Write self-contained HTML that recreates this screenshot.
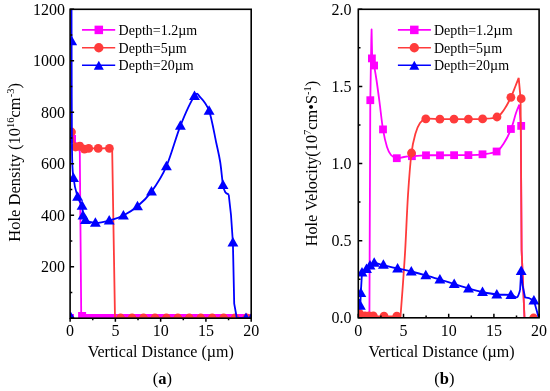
<!DOCTYPE html><html><head><meta charset="utf-8"><style>html,body{margin:0;padding:0;background:#fff;}svg{display:block;}</style></head><body><svg width="550" height="391" viewBox="0 0 550 391">
<rect width="550" height="391" fill="#fff"/>
<defs><clipPath id="cl"><rect x="70.1" y="9.3" width="181.1" height="308.9"/></clipPath><clipPath id="cr"><rect x="358.3" y="9.3" width="180.8" height="308.5"/></clipPath></defs>
<g clip-path="url(#cl)">
<path d="M68 136 L72 139 L78.6 146.6 L79.8 152 L81.2 312 L82.1 316 L86 318 L252 318" fill="none" stroke="#ff00ff" stroke-width="1.8" stroke-linejoin="round"/>
<rect x="68" y="135" width="8" height="8" fill="#ff00ff"/>
<rect x="74.6" y="142.6" width="8" height="8" fill="#ff00ff"/>
<rect x="78.1" y="312" width="8" height="8" fill="#ff00ff"/>
<rect x="66" y="314" width="8" height="8" fill="#ff00ff"/>
<rect x="82" y="314" width="170" height="5" fill="#ff00ff"/>
<path d="M69 128C69.42 128.67 70.42 128.87 71.5 132C72.58 135.13 74.12 144.43 75.5 146.8C76.88 149.17 78.32 145.83 79.8 146.2C81.28 146.57 82.92 148.63 84.4 149C85.88 149.37 86.4 148.5 88.7 148.4C91 148.3 94.75 148.4 98.2 148.4C101.65 148.4 107.07 147.97 109.4 148.4C111.73 148.83 111.73 150.57 112.2 151M112.2 151 L115 318 L252 318" fill="none" stroke="#ff3b3b" stroke-width="1.8" stroke-linejoin="round"/>
<circle cx="71.5" cy="132" r="4.4" fill="#ff3b3b"/>
<circle cx="75.5" cy="147" r="4.4" fill="#ff3b3b"/>
<circle cx="79.8" cy="146.2" r="4.4" fill="#ff3b3b"/>
<circle cx="84.4" cy="149.1" r="4.4" fill="#ff3b3b"/>
<circle cx="88.7" cy="148.4" r="4.4" fill="#ff3b3b"/>
<circle cx="98.2" cy="148.4" r="4.4" fill="#ff3b3b"/>
<circle cx="109.4" cy="148.4" r="4.4" fill="#ff3b3b"/>
<circle cx="69.5" cy="318" r="4.4" fill="#ff3b3b"/>
<circle cx="120.6" cy="318" r="4.4" fill="#ff3b3b"/>
<circle cx="132.05" cy="318" r="4.4" fill="#ff3b3b"/>
<circle cx="143.5" cy="318" r="4.4" fill="#ff3b3b"/>
<circle cx="154.95" cy="318" r="4.4" fill="#ff3b3b"/>
<circle cx="166.4" cy="318" r="4.4" fill="#ff3b3b"/>
<circle cx="177.85" cy="318" r="4.4" fill="#ff3b3b"/>
<circle cx="189.3" cy="318" r="4.4" fill="#ff3b3b"/>
<circle cx="200.75" cy="318" r="4.4" fill="#ff3b3b"/>
<circle cx="212.2" cy="318" r="4.4" fill="#ff3b3b"/>
<circle cx="223.65" cy="318" r="4.4" fill="#ff3b3b"/>
<circle cx="235.1" cy="318" r="4.4" fill="#ff3b3b"/>
<circle cx="246.55" cy="318" r="4.4" fill="#ff3b3b"/>
<path d="M71.5 0C71.52 6.75 71.52 15.5 71.6 40.5C71.68 65.5 71.68 127.08 72 150C72.32 172.92 72.57 170.17 73.5 178C74.43 185.83 76.17 192.33 77.6 197C79.03 201.67 81.2 202.92 82.1 206C83 209.08 82.43 213.17 83 215.5C83.57 217.83 83.43 218.75 85.5 220C87.57 221.25 91.45 222.9 95.4 223C99.35 223.1 104.53 221.85 109.2 220.6C113.87 219.35 118.68 217.88 123.4 215.5C128.12 213.12 132.82 210.28 137.5 206.3C142.18 202.32 146.68 198.27 151.5 191.6C156.32 184.93 161.58 177.27 166.4 166.3C171.22 155.33 175.72 137.52 180.4 125.8C185.08 114.08 191.23 100.8 194.5 96C197.77 91.2 197.57 94.52 200 97C202.43 99.48 206.38 103.23 209.1 110.9C211.82 118.57 214.45 134.48 216.3 143C218.15 151.52 219.08 154.98 220.2 162C221.32 169.02 222.15 180.07 223 185.1C223.85 190.13 224.35 190.63 225.3 192.2C226.25 193.77 228.13 194.12 228.7 194.5M228.7 194.5 L231 215 L232.9 242.5 L234.2 303.6 L236.8 318 L252 318" fill="none" stroke="#0000ff" stroke-width="1.8" stroke-linejoin="round"/>
<path d="M71.7 35.7L77.15 45.2L66.25 45.2Z" fill="#0000ff"/>
<path d="M73.5 172.5L78.95 182L68.05 182Z" fill="#0000ff"/>
<path d="M77.6 191.3L83.05 200.8L72.15 200.8Z" fill="#0000ff"/>
<path d="M82.1 200.3L87.55 209.8L76.65 209.8Z" fill="#0000ff"/>
<path d="M83 210L88.45 219.5L77.55 219.5Z" fill="#0000ff"/>
<path d="M85.5 214.5L90.95 224L80.05 224Z" fill="#0000ff"/>
<path d="M95.4 217.3L100.85 226.8L89.95 226.8Z" fill="#0000ff"/>
<path d="M109.2 215L114.65 224.5L103.75 224.5Z" fill="#0000ff"/>
<path d="M123.4 209.9L128.85 219.4L117.95 219.4Z" fill="#0000ff"/>
<path d="M137.5 200.7L142.95 210.2L132.05 210.2Z" fill="#0000ff"/>
<path d="M151.5 186L156.95 195.5L146.05 195.5Z" fill="#0000ff"/>
<path d="M166.4 160.7L171.85 170.2L160.95 170.2Z" fill="#0000ff"/>
<path d="M180.4 120.2L185.85 129.7L174.95 129.7Z" fill="#0000ff"/>
<path d="M194.5 90.4L199.95 99.9L189.05 99.9Z" fill="#0000ff"/>
<path d="M209.1 105.3L214.55 114.8L203.65 114.8Z" fill="#0000ff"/>
<path d="M223 179.5L228.45 189L217.55 189Z" fill="#0000ff"/>
<path d="M232.9 236.9L238.35 246.4L227.45 246.4Z" fill="#0000ff"/>
<path d="M246 312.5L251.45 322L240.55 322Z" fill="#0000ff"/>
<path d="M251.5 312.5L256.95 322L246.05 322Z" fill="#0000ff"/>
<path d="M70.8 311.5L76.25 321L65.35 321Z" fill="#0000ff"/>
</g>
<g clip-path="url(#cr)">
<path d="M358 318 L369.4 318 L370.3 100.2 L371.3 40 L371.6 29.5 L371.9 45 L372.2 58.4 L374.1 65.5M374.1 65.5C374.5 67.92 375.6 73.92 376.5 80C377.4 86.08 378.42 93.77 379.5 102C380.58 110.23 381.75 121.9 383 129.4C384.25 136.9 385.67 142.73 387 147C388.33 151.27 389.37 153.13 391 155C392.63 156.87 394.63 157.87 396.8 158.2C398.97 158.53 401.48 157.33 404 157C406.52 156.67 408.23 156.48 411.9 156.2C415.57 155.92 421.32 155.45 426 155.3C430.68 155.15 435.33 155.32 440 155.3C444.67 155.28 449.27 155.23 454 155.2C458.73 155.17 463.65 155.25 468.4 155.1C473.15 154.95 477.8 154.9 482.5 154.3C487.2 153.7 493.02 153.38 496.6 151.5C500.18 149.62 501.62 146.67 504 143C506.38 139.33 508.9 134.5 510.9 129.5C512.9 124.5 514.6 117.15 516 113C517.4 108.85 518.75 106 519.3 104.6M519.3 104.6 L520.8 125.9 L521.6 250 L524.5 318 L540 318" fill="none" stroke="#ff00ff" stroke-width="1.8" stroke-linejoin="round"/>
<rect x="366.4" y="96.3" width="7.8" height="7.8" fill="#ff00ff"/>
<rect x="368" y="54.5" width="7.8" height="7.8" fill="#ff00ff"/>
<rect x="370.2" y="61.6" width="7.8" height="7.8" fill="#ff00ff"/>
<rect x="379.1" y="125.5" width="7.8" height="7.8" fill="#ff00ff"/>
<rect x="392.9" y="154.3" width="7.8" height="7.8" fill="#ff00ff"/>
<rect x="408" y="152.3" width="7.8" height="7.8" fill="#ff00ff"/>
<rect x="422.1" y="151.4" width="7.8" height="7.8" fill="#ff00ff"/>
<rect x="436.1" y="151.4" width="7.8" height="7.8" fill="#ff00ff"/>
<rect x="450.2" y="151.3" width="7.8" height="7.8" fill="#ff00ff"/>
<rect x="464.5" y="151.2" width="7.8" height="7.8" fill="#ff00ff"/>
<rect x="478.6" y="150.4" width="7.8" height="7.8" fill="#ff00ff"/>
<rect x="492.7" y="147.6" width="7.8" height="7.8" fill="#ff00ff"/>
<rect x="507" y="125.1" width="7.8" height="7.8" fill="#ff00ff"/>
<rect x="517.3" y="122" width="7.8" height="7.8" fill="#ff00ff"/>
<path d="M358 316.4 L400.5 316.4M400.5 316.4C400.83 312 401.72 301.07 402.5 290C403.28 278.93 404.28 265.83 405.2 250C406.12 234.17 406.95 211.17 408 195C409.05 178.83 410.27 163.2 411.5 153C412.73 142.8 413.98 138.8 415.4 133.8C416.82 128.8 418.27 125.48 420 123C421.73 120.52 422.48 119.53 425.8 118.9C429.12 118.27 435.2 119.15 439.9 119.2C444.6 119.25 449.25 119.22 454 119.2C458.75 119.18 463.63 119.15 468.4 119.1C473.17 119.05 477.83 119.25 482.6 118.9C487.37 118.55 493.35 118.65 497 117C500.65 115.35 502.18 112.28 504.5 109C506.82 105.72 509.07 101.13 510.9 97.3C512.73 93.47 514.2 89.23 515.5 86C516.8 82.77 518.17 79.25 518.7 77.9M518.7 77.9 L520.6 98.8 L521.6 250 L524.5 318 L540 318" fill="none" stroke="#ff3b3b" stroke-width="1.8" stroke-linejoin="round"/>
<circle cx="359.5" cy="313.5" r="4.4" fill="#ff3b3b"/>
<circle cx="365" cy="315.8" r="4.4" fill="#ff3b3b"/>
<circle cx="369" cy="315.8" r="4.4" fill="#ff3b3b"/>
<circle cx="373.3" cy="315.8" r="4.4" fill="#ff3b3b"/>
<circle cx="384" cy="316.2" r="4.4" fill="#ff3b3b"/>
<circle cx="396.8" cy="316.2" r="4.4" fill="#ff3b3b"/>
<circle cx="411.5" cy="153" r="4.4" fill="#ff3b3b"/>
<circle cx="425.8" cy="118.9" r="4.4" fill="#ff3b3b"/>
<circle cx="439.9" cy="119.2" r="4.4" fill="#ff3b3b"/>
<circle cx="454" cy="119.2" r="4.4" fill="#ff3b3b"/>
<circle cx="468.4" cy="119.1" r="4.4" fill="#ff3b3b"/>
<circle cx="482.6" cy="118.9" r="4.4" fill="#ff3b3b"/>
<circle cx="497" cy="117" r="4.4" fill="#ff3b3b"/>
<circle cx="510.9" cy="97.3" r="4.4" fill="#ff3b3b"/>
<circle cx="521.2" cy="98.7" r="4.4" fill="#ff3b3b"/>
<circle cx="533.6" cy="318" r="4.4" fill="#ff3b3b"/>
<path d="M358.5 305 L359.5 300 L360.4 303.2 L360.8 293.1 L362 272.5M362 272.5C362.75 271.92 365.17 270.08 366.5 269C367.83 267.92 368.72 267 370 266C371.28 265 371.97 263.13 374.2 263C376.43 262.87 379.5 264.28 383.4 265.2C387.3 266.12 392.95 267.45 397.6 268.5C402.25 269.55 406.6 270.37 411.3 271.5C416 272.63 421.03 273.97 425.8 275.3C430.57 276.63 435.17 278.05 439.9 279.5C444.63 280.95 449.43 282.52 454.2 284C458.97 285.48 463.78 287.07 468.5 288.4C473.22 289.73 477.78 290.98 482.5 292C487.22 293.02 492.07 294 496.8 294.5C501.53 295 507.53 294.55 510.9 295C514.27 295.45 515.47 298.03 517 297.2C518.53 296.37 519.58 291.2 520.1 290M520.1 290 L521.2 270 L522.5 285 L525 297.3 L529.2 298.2 L533.9 300.5 L538.5 317" fill="none" stroke="#0000ff" stroke-width="1.8" stroke-linejoin="round"/>
<path d="M360.4 300.2L365.85 309.7L354.95 309.7Z" fill="#0000ff"/>
<path d="M360.8 287.5L366.25 297L355.35 297Z" fill="#0000ff"/>
<path d="M362 266.9L367.45 276.4L356.55 276.4Z" fill="#0000ff"/>
<path d="M366.5 263.4L371.95 272.9L361.05 272.9Z" fill="#0000ff"/>
<path d="M370 260L375.45 269.5L364.55 269.5Z" fill="#0000ff"/>
<path d="M374.2 257.3L379.65 266.8L368.75 266.8Z" fill="#0000ff"/>
<path d="M383.4 259.2L388.85 268.7L377.95 268.7Z" fill="#0000ff"/>
<path d="M397.6 263L403.05 272.5L392.15 272.5Z" fill="#0000ff"/>
<path d="M411.3 266L416.75 275.5L405.85 275.5Z" fill="#0000ff"/>
<path d="M425.8 269.8L431.25 279.3L420.35 279.3Z" fill="#0000ff"/>
<path d="M439.9 274L445.35 283.5L434.45 283.5Z" fill="#0000ff"/>
<path d="M454.2 278.6L459.65 288.1L448.75 288.1Z" fill="#0000ff"/>
<path d="M468.5 283L473.95 292.5L463.05 292.5Z" fill="#0000ff"/>
<path d="M482.5 286.6L487.95 296.1L477.05 296.1Z" fill="#0000ff"/>
<path d="M496.8 289L502.25 298.5L491.35 298.5Z" fill="#0000ff"/>
<path d="M510.9 289.5L516.35 299L505.45 299Z" fill="#0000ff"/>
<path d="M521.2 265.5L526.65 275L515.75 275Z" fill="#0000ff"/>
<path d="M533.9 294.9L539.35 304.4L528.45 304.4Z" fill="#0000ff"/>
</g>
<rect x="70.1" y="9.3" width="181.1" height="308.9" fill="none" stroke="#000" stroke-width="1.6"/>
<rect x="358.3" y="9.3" width="180.8" height="308.5" fill="none" stroke="#000" stroke-width="1.6"/>
<path d="M70.1 318.2h4 M70.1 292.46h2.2 M70.1 266.72h4 M70.1 240.97h2.2 M70.1 215.23h4 M70.1 189.49h2.2 M70.1 163.75h4 M70.1 138.01h2.2 M70.1 112.27h4 M70.1 86.52h2.2 M70.1 60.78h4 M70.1 35.04h2.2 M70.1 9.3h4 M70.1 318.2v3.6 M92.74 318.2v2 M115.38 318.2v3.6 M138.01 318.2v2 M160.65 318.2v3.6 M183.29 318.2v2 M205.92 318.2v3.6 M228.56 318.2v2 M251.2 318.2v3.6" stroke="#000" stroke-width="1.5" fill="none"/>
<path d="M358.3 317.8h4 M358.3 279.24h2.2 M358.3 240.68h4 M358.3 202.11h2.2 M358.3 163.55h4 M358.3 124.99h2.2 M358.3 86.43h4 M358.3 47.86h2.2 M358.3 9.3h4 M358.3 317.8v-4 M380.9 317.8v-2.2 M403.5 317.8v-4 M426.1 317.8v-2.2 M448.7 317.8v-4 M471.3 317.8v-2.2 M493.9 317.8v-4 M516.5 317.8v-2.2 M539.1 317.8v-4" stroke="#000" stroke-width="1.5" fill="none"/>
<text x="65" y="272.32" font-family="Liberation Serif, serif" fill="#000" font-size="16" text-anchor="end">200</text>
<text x="65" y="220.83" font-family="Liberation Serif, serif" fill="#000" font-size="16" text-anchor="end">400</text>
<text x="65" y="169.35" font-family="Liberation Serif, serif" fill="#000" font-size="16" text-anchor="end">600</text>
<text x="65" y="117.87" font-family="Liberation Serif, serif" fill="#000" font-size="16" text-anchor="end">800</text>
<text x="65" y="66.38" font-family="Liberation Serif, serif" fill="#000" font-size="16" text-anchor="end">1000</text>
<text x="65" y="14.9" font-family="Liberation Serif, serif" fill="#000" font-size="16" text-anchor="end">1200</text>
<text x="351.5" y="323.4" font-family="Liberation Serif, serif" fill="#000" font-size="16" text-anchor="end">0.0</text>
<text x="351.5" y="246.28" font-family="Liberation Serif, serif" fill="#000" font-size="16" text-anchor="end">0.5</text>
<text x="351.5" y="169.15" font-family="Liberation Serif, serif" fill="#000" font-size="16" text-anchor="end">1.0</text>
<text x="351.5" y="92.03" font-family="Liberation Serif, serif" fill="#000" font-size="16" text-anchor="end">1.5</text>
<text x="351.5" y="14.9" font-family="Liberation Serif, serif" fill="#000" font-size="16" text-anchor="end">2.0</text>
<text x="70.1" y="336" font-family="Liberation Serif, serif" fill="#000" font-size="16" text-anchor="middle">0</text>
<text x="358.3" y="336" font-family="Liberation Serif, serif" fill="#000" font-size="16" text-anchor="middle">0</text>
<text x="115.38" y="336" font-family="Liberation Serif, serif" fill="#000" font-size="16" text-anchor="middle">5</text>
<text x="403.5" y="336" font-family="Liberation Serif, serif" fill="#000" font-size="16" text-anchor="middle">5</text>
<text x="160.65" y="336" font-family="Liberation Serif, serif" fill="#000" font-size="16" text-anchor="middle">10</text>
<text x="448.7" y="336" font-family="Liberation Serif, serif" fill="#000" font-size="16" text-anchor="middle">10</text>
<text x="205.92" y="336" font-family="Liberation Serif, serif" fill="#000" font-size="16" text-anchor="middle">15</text>
<text x="493.9" y="336" font-family="Liberation Serif, serif" fill="#000" font-size="16" text-anchor="middle">15</text>
<text x="251.2" y="336" font-family="Liberation Serif, serif" fill="#000" font-size="16" text-anchor="middle">20</text>
<text x="539.1" y="336" font-family="Liberation Serif, serif" fill="#000" font-size="16" text-anchor="middle">20</text>
<text x="160.7" y="356.8" font-family="Liberation Serif, serif" fill="#000" font-size="16" text-anchor="middle">Vertical Distance (µm)</text>
<text x="441.5" y="356.8" font-family="Liberation Serif, serif" fill="#000" font-size="16" text-anchor="middle">Vertical Distance (µm)</text>
<text x="162.4" y="383.6" font-family="Liberation Serif, serif" fill="#000" font-size="16.5" text-anchor="middle">(<tspan font-weight="bold">a</tspan>)</text>
<text x="444.3" y="383.6" font-family="Liberation Serif, serif" fill="#000" font-size="16.5" text-anchor="middle">(<tspan font-weight="bold">b</tspan>)</text>
<text transform="translate(19.8 162.4) rotate(-90)" font-family="Liberation Serif, serif" fill="#000" font-size="16.5" text-anchor="middle">Hole Density (10<tspan font-size="10.5" dy="-6">16</tspan><tspan dy="6">cm</tspan><tspan font-size="10.5" dy="-6">-3</tspan><tspan dy="6">)</tspan></text>
<text transform="translate(316.6 163.6) rotate(-90)" font-family="Liberation Serif, serif" fill="#000" font-size="16.3" text-anchor="middle">Hole Velocity(10<tspan font-size="10.5" dy="-6">7</tspan><tspan dy="6">cm•S</tspan><tspan font-size="10.5" dy="-6">-1</tspan><tspan dy="6">)</tspan></text>
<path d="M82 29.9H115.2" stroke="#ff00ff" stroke-width="1.6"/>
<rect x="94.55" y="25.65" width="8.5" height="8.5" fill="#ff00ff"/>
<text x="118.6" y="35.2" font-family="Liberation Serif, serif" fill="#000" font-size="14">Depth=1.2µm</text>
<path d="M82 47.7H115.2" stroke="#ff3b3b" stroke-width="1.6"/>
<circle cx="98.8" cy="47.7" r="4.7" fill="#ff3b3b"/>
<text x="118.6" y="52.8" font-family="Liberation Serif, serif" fill="#000" font-size="14">Depth=5µm</text>
<path d="M82 65.3H115.2" stroke="#0000ff" stroke-width="1.6"/>
<path d="M98.8 60.8L103.8 69.8L93.8 69.8Z" fill="#0000ff"/>
<text x="118.6" y="70.4" font-family="Liberation Serif, serif" fill="#000" font-size="14">Depth=20µm</text>
<path d="M397.9 29.9H430.9" stroke="#ff00ff" stroke-width="1.6"/>
<rect x="410.05" y="25.65" width="8.5" height="8.5" fill="#ff00ff"/>
<text x="434" y="35.2" font-family="Liberation Serif, serif" fill="#000" font-size="14">Depth=1.2µm</text>
<path d="M397.9 47.7H430.9" stroke="#ff3b3b" stroke-width="1.6"/>
<circle cx="414.3" cy="47.7" r="4.7" fill="#ff3b3b"/>
<text x="434" y="52.8" font-family="Liberation Serif, serif" fill="#000" font-size="14">Depth=5µm</text>
<path d="M397.9 65.3H430.9" stroke="#0000ff" stroke-width="1.6"/>
<path d="M414.3 60.8L419.3 69.8L409.3 69.8Z" fill="#0000ff"/>
<text x="434" y="70.4" font-family="Liberation Serif, serif" fill="#000" font-size="14">Depth=20µm</text>
</svg></body></html>
